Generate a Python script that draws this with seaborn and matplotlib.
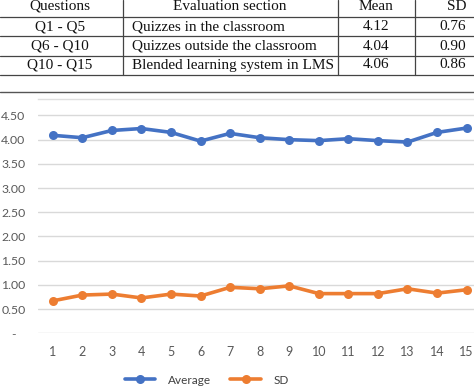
import pandas as pd
import matplotlib.pyplot as plt
import seaborn as sns
from matplotlib.lines import Line2D

# Table data
questions = ['Q1 - Q5', 'Q6 - Q10', 'Q10 - Q15']
sections = ['Quizzes in the classroom', 'Quizzes outside the classroom',
            'Blended learning system in LMS']
means = ['4.12', '4.04', '4.06']
sds = ['0.76', '0.90', '0.86']

# Chart data
question_no = list(range(1, 16))
average = [4.09, 4.04, 4.19, 4.23, 4.15, 3.97, 4.13, 4.04, 4.00, 3.98,
           4.02, 3.98, 3.95, 4.15, 4.24]
sd = [0.67, 0.79, 0.81, 0.73, 0.81, 0.77, 0.95, 0.92, 0.98, 0.82,
      0.82, 0.82, 0.92, 0.83, 0.90]
y_ticks = [0, 0.5, 1.0, 1.5, 2.0, 2.5, 3.0, 3.5, 4.0, 4.5]

sns.set_theme(style='white')
plt.rcParams['font.family'] = ['Lato', 'DejaVu Sans']

W, H = 474, 387
fig = plt.figure(figsize=(W / 100, H / 100), dpi=100)

def fx(px):
    return px / W

def fy(py):
    return 1 - py / H

# ---- table on top ----
serif = ['Liberation Serif', 'DejaVu Serif']
tcol = '#111111'
tsize = 11
row_y = [6, 27, 46, 65]
for x in [123, 338, 415]:
    fig.add_artist(Line2D([fx(x), fx(x)], [fy(0), fy(75)], color='#444444', lw=0.9))
for y in [16.5, 36, 55.5, 75]:
    fig.add_artist(Line2D([0, 1], [fy(y), fy(y)], color='#444444', lw=0.9))
hdr = ['Questions', 'Evaluation section', 'Mean', 'SD']
hx = [60, 230, 376, 457]
for t, x in zip(hdr, hx):
    fig.text(fx(x), fy(row_y[0]), t, ha='center', va='center', family=serif,
             fontsize=tsize, color=tcol)
for i in range(3):
    y = fy(row_y[i + 1])
    fig.text(fx(60), y, questions[i], ha='center', va='center', family=serif, fontsize=tsize, color=tcol)
    fig.text(fx(132), y, sections[i], ha='left', va='center', family=serif, fontsize=tsize, color=tcol)
    fig.text(fx(376), y, means[i], ha='center', va='center', family=serif, fontsize=tsize, color=tcol)
    fig.text(fx(453), y, sds[i], ha='center', va='center', family=serif, fontsize=tsize, color=tcol)

# border above chart
fig.add_artist(Line2D([0, 1], [fy(92), fy(92)], color='#555555', lw=1.0))

# ---- line chart ----
ax = fig.add_axes([fx(38), fy(333.3), fx(474 - 38), (333.3 - 99) / H])
df = pd.DataFrame({'q': question_no, 'Average': average, 'SD': sd})
blue = '#4472C4'
orange = '#ED7D31'
sns.lineplot(data=df, x='q', y='Average', ax=ax, color=blue, lw=2.6,
             marker='o', markersize=6.5, markeredgewidth=0, label='Average')
sns.lineplot(data=df, x='q', y='SD', ax=ax, color=orange, lw=2.6,
             marker='o', markersize=6.5, markeredgewidth=0, label='SD')

ax.set_xlim(0.5, 15.25)
ax.set_ylim(0, 4.84)
ax.set_xticks(question_no)
ax.set_yticks(y_ticks)
ax.set_yticklabels(['-   '] + [f'{v:.2f}' for v in y_ticks[1:]])
ax.grid(axis='y', color='#d9d9d9', lw=1.0)
ax.grid(axis='x', visible=False)
for s in ['left', 'right', 'bottom']:
    ax.spines[s].set_visible(False)
ax.spines['top'].set_color('#e0e0e0')
ax.spines['top'].set_linewidth(1.0)
ax.tick_params(axis='y', length=0, pad=9, labelsize=8.8, labelcolor='#595959')
ax.tick_params(axis='x', length=0, pad=9, labelsize=9, labelcolor='#595959')
ax.set_xlabel('')
ax.set_ylabel('')

ax.legend(loc='center', bbox_to_anchor=(fx(207), fy(380)), bbox_transform=fig.transFigure,
          ncol=2, frameon=False, fontsize=8.5, handlelength=2.6, handletextpad=1.1,
          columnspacing=1.6, labelcolor='#404040')

fig.savefig('out.png', dpi=100)
